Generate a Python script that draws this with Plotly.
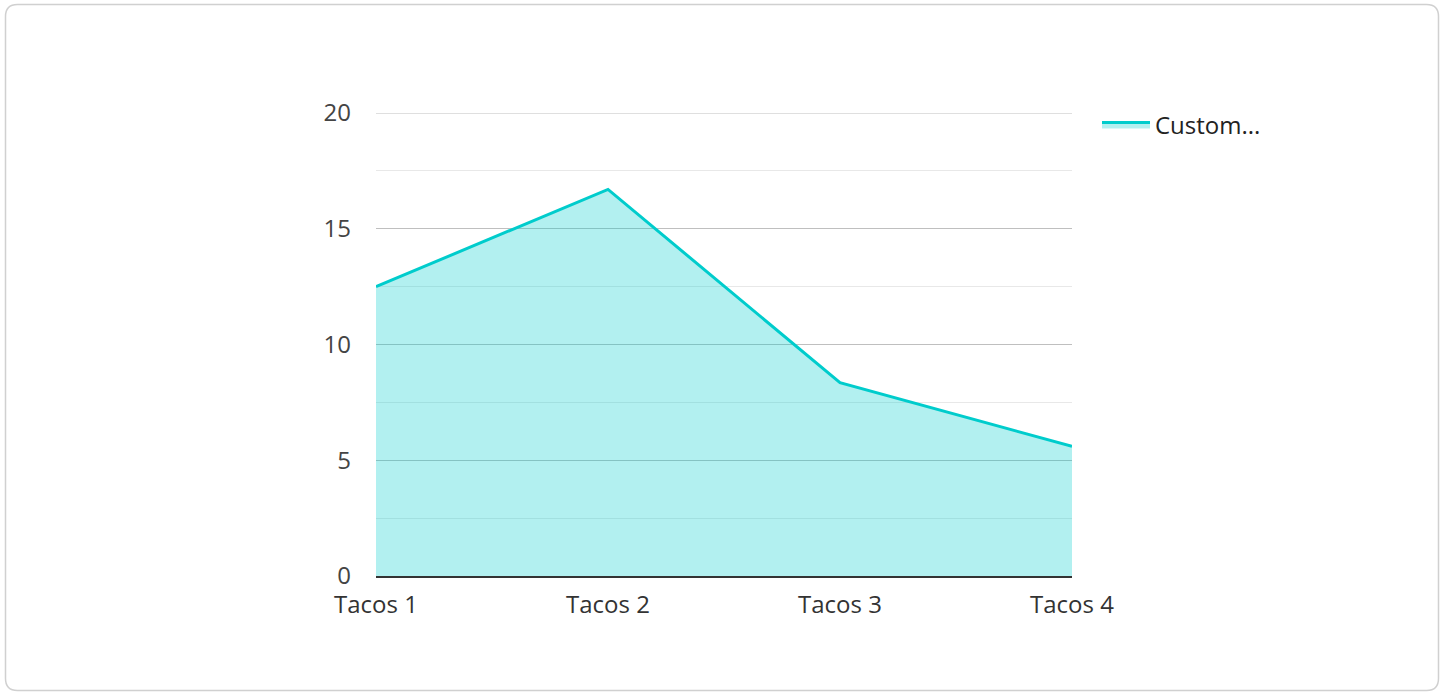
import plotly.graph_objects as go

categories = ["Tacos 1", "Tacos 2", "Tacos 3", "Tacos 4"]
values = [12.5, 16.7, 8.35, 5.6]
series_name = "Custom..."

W, H = 1445, 693
L, R, T, B = 376, 1072, 113, 576
pw, ph = R - L, B - T

def px_x(x):
    return (x - L) / pw

def px_y(y):
    return (B - y) / ph

fig = go.Figure()
fig.add_trace(go.Scatter(
    x=list(range(len(categories))), y=values, name=series_name,
    mode="lines", fill="tozeroy",
    line=dict(color="#00cccc", width=3),
    fillcolor="rgba(0,204,204,0.30)",
    showlegend=True,
))

# card border (rounded rectangle) in paper coordinates
x0, x1, y0, y1, r = 5.5, 1438.5, 4.5, 690.5, 12
path = (
    f"M {px_x(x0 + r)} {px_y(y0)} L {px_x(x1 - r)} {px_y(y0)} "
    f"Q {px_x(x1)} {px_y(y0)} {px_x(x1)} {px_y(y0 + r)} "
    f"L {px_x(x1)} {px_y(y1 - r)} Q {px_x(x1)} {px_y(y1)} {px_x(x1 - r)} {px_y(y1)} "
    f"L {px_x(x0 + r)} {px_y(y1)} Q {px_x(x0)} {px_y(y1)} {px_x(x0)} {px_y(y1 - r)} "
    f"L {px_x(x0)} {px_y(y0 + r)} Q {px_x(x0)} {px_y(y0)} {px_x(x0 + r)} {px_y(y0)} Z"
)

grid_major = "#bfbfbf"

fig.update_layout(
    width=W, height=H,
    margin=dict(l=L, r=W - R, t=T, b=H - B, pad=0),
    paper_bgcolor="white", plot_bgcolor="white",
    font=dict(family="Open Sans, Noto Sans, sans-serif", size=24, color="#333"),
    shapes=[
        dict(type="path", xref="paper", yref="paper", path=path,
             line=dict(color="#d0d0d0", width=1.5), layer="below"),
        dict(type="line", xref="paper", yref="y", x0=0, x1=1, y0=20, y1=20,
             line=dict(color=grid_major, width=1.2), layer="below"),
    ],
    legend=dict(x=px_x(1097), y=px_y(125), xanchor="left", yanchor="middle",
                font=dict(size=24, color="#222"), bgcolor="rgba(0,0,0,0)",
                itemwidth=48),
    xaxis=dict(
        tickmode="array", tickvals=list(range(len(categories))), ticktext=categories,
        range=[0, 3], showgrid=False, zeroline=False,
        showline=True, linecolor="#333", linewidth=2,
        ticks="", ticklabelstandoff=6, tickfont=dict(size=24, color="#333"),
        fixedrange=True,
    ),
    yaxis=dict(
        range=[0, 20], tickvals=[0, 5, 10, 15, 20], showgrid=True,
        gridcolor=grid_major, gridwidth=1.2, zeroline=False,
        minor=dict(dtick=2.5, showgrid=True, gridcolor="#e8e8e8", gridwidth=1),
        ticks="", ticklabelstandoff=24, tickfont=dict(size=24, color="#444"),
        fixedrange=True,
    ),
)

fig.write_html("out.html", config={"displayModeBar": False},
               post_script="document.body.style.margin='0';")
